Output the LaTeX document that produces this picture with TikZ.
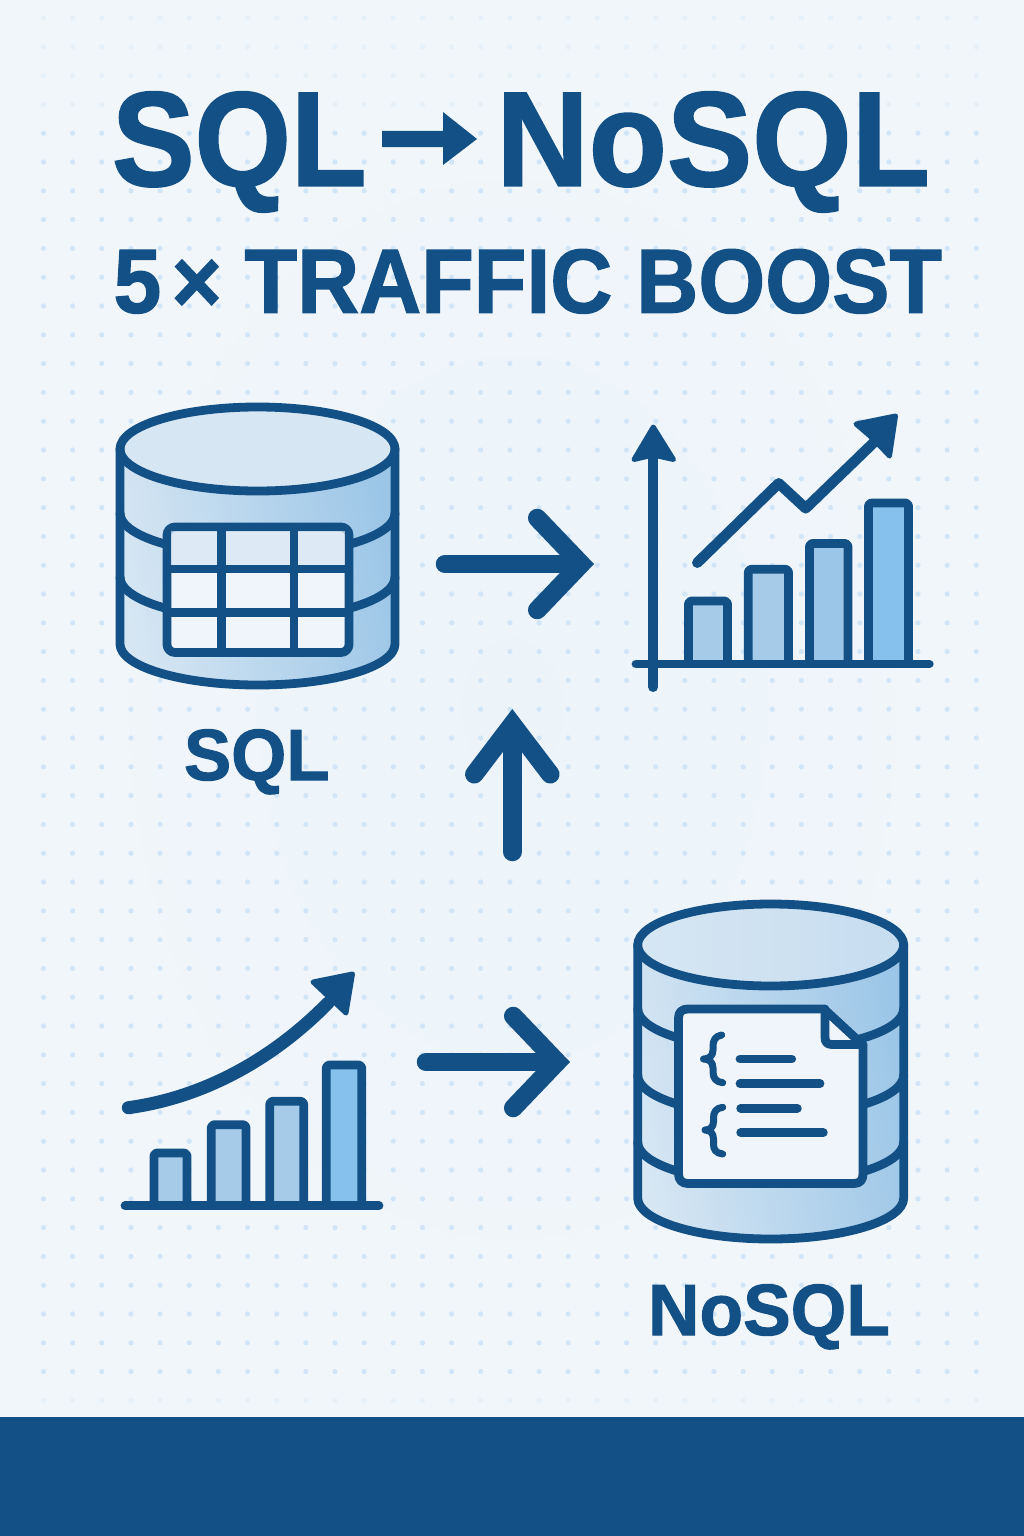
\documentclass[tikz,border=0pt]{standalone}
\usepackage{fontspec}
\usetikzlibrary{arrows.meta,calc}
\newfontface\hfb[FakeBold=1.4]{Liberation Sans Bold}
\definecolor{ink}{HTML}{125086}
\definecolor{bgmid}{HTML}{ECF4FA}
\definecolor{bgedge}{HTML}{F1F6FA}
\definecolor{dotc}{HTML}{CDE4F8}
\definecolor{lite}{HTML}{D6E6F3}
\definecolor{topr}{HTML}{C6DDF0}
\definecolor{deep}{HTML}{9CC6E7}
\definecolor{paper}{HTML}{EFF5FA}
\definecolor{barA}{HTML}{A5CBE9}
\definecolor{barB}{HTML}{85C1EC}
\tikzset{
  inkline/.style={draw=ink,line width=8.8pt,line join=round,line cap=round},
  thin ink/.style={draw=ink,line width=7pt,line join=round,line cap=round},
  solidhead/.style={fill=ink,draw=ink,line width=5pt,line join=round},
  barbox/.style={draw=ink,line width=8.8pt,line join=round,rounded corners=3pt},
  flow/.style={draw=ink,line width=18.5pt,line cap=round,
    -{Straight Barb[length=44pt,width=92pt,line width=18.5pt,line cap=round,line join=miter]}},
  port/.style={inner sep=0pt,minimum size=0pt,outer sep=0pt},
  headline/.style={inner sep=0pt,outer sep=0pt,anchor=base west,text=ink},
}
\newcommand{\cyl}[5]{% cx rx topcy ry botcy
  \path[left color=lite,right color=deep,shading angle=100] (#1-#2,#3) -- (#1-#2,#5) arc[start angle=180,end angle=0,x radius=#2,y radius=#4] -- (#1+#2,#3) -- cycle;
}
\begin{document}
\begin{tikzpicture}[x=1pt,y=-1pt]
\useasboundingbox (0,0) rectangle (1024,1536);
% background
\shade[inner color=bgmid,outer color=bgedge] (0,0) rectangle (1024,1417);
\foreach \r in {0,...,48}{
  \pgfmathsetmacro{\yy}{18+28.8*\r}
  \pgfmathsetmacro{\op}{\yy<125?0.3:(\yy>1385?0.25:0.9)}
  \foreach \c in {0,...,32}{
    \fill[dotc,opacity=\op] ({43.5+29.15*\c},\yy) circle[radius=2.6];
  }
}
\fill[ink] (0,1417) rectangle (1024,1536);
% title
\node[headline] (titleA) at (112,185.7) {\scalebox{0.92}[1]{\fontsize{134.6}{140}\hfb SQL}};
\node[headline] (titleB) at (496.5,185.7) {\scalebox{0.95}[1]{\fontsize{134.6}{140}\hfb NoSQL}};
\fill[ink] (382,131) -- (443,131) -- (443,112) -- (477,139) -- (443,165) -- (443,147) -- (382,147) -- cycle;
\node[headline] (subtitle) at (113.5,312.7) {\scalebox{0.945}[1]{\fontsize{91}{96}\hfb 5\kern11pt ×\kern24pt TRAFFIC BOOST}};
% SQL cylinder
\cyl{257.5}{137.5}{449}{41}{644}
\filldraw[inkline,fill=lite] (257.5,449) ellipse[x radius=137.5,y radius=42];
\foreach \cy in {513,577}{
  \draw[inkline] (120,\cy) arc[start angle=180,end angle=0,x radius=137.5,y radius=42];
}
\draw[inkline] (120,449) -- (120,644) arc[start angle=180,end angle=0,x radius=137.5,y radius=41] -- (395,449);
\filldraw[inkline,fill=paper,rounded corners=8pt] (167,527) rectangle (349,652.5);
\fill[lite,opacity=.7] (171,531) rectangle (345,569);
\draw[draw=ink,line width=8.8pt] (221.7,527) -- (221.7,652.5) (294,527) -- (294,652.5) (167,569) -- (349,569) (167,612.7) -- (349,612.7);
\node[headline] (sqllabel) at (184,780) {\scalebox{0.975}[1]{\fontsize{72.6}{76}\hfb SQL}};
% growth chart top right
\foreach \xa/\xb/\yt/\col in {688.5/727.5/601/barA,748.3/788.5/569.3/barA,809.5/848/543.5/deep,868.5/908.5/503/barB}{
  \filldraw[barbox,fill=\col] (\xa,664) -- (\xa,\yt) -- (\xb,\yt) -- (\xb,664);
}
\draw[inkline] (636,664) -- (929.3,664);
\draw[draw=ink,line width=10pt,line cap=round] (653.3,687) -- (653.3,450);
\filldraw[solidhead] (653.3,427) -- (634,459.5) -- (653.3,455) -- (673.5,459.5) -- cycle;
\draw[draw=ink,line width=10.5pt,line cap=round,line join=round] (697.3,562.7) -- (778.7,483.3) -- (805.7,508.3) -- (873.3,443);
\filldraw[solidhead] (895.5,416) -- (856,424) -- (870,436) -- (880,446) -- (889.5,456) -- cycle;
% NoSQL cylinder
\cyl{770.7}{133}{945}{41}{1198}
\filldraw[inkline,left color=lite,right color=topr] (770.7,945) ellipse[x radius=133,y radius=41];
\foreach \cy in {1008.5,1075,1142}{
  \draw[inkline] (637.7,\cy) arc[start angle=180,end angle=0,x radius=133,y radius=41];
}
\draw[inkline] (637.7,945) -- (637.7,1198) arc[start angle=180,end angle=0,x radius=133,y radius=41] -- (903.7,945);
\filldraw[inkline,fill=paper] (688,1009) -- (824,1009) -- (863,1045) -- (863,1174) .. controls (863,1180) and (860,1183.5) .. (854,1183.5) -- (688,1183.5) .. controls (682,1183.5) and (678.5,1180) .. (678.5,1174) -- (678.5,1018) .. controls (678.5,1012) and (682,1009) .. (688,1009) -- cycle;
\draw[inkline] (825,1009) -- (825,1037) .. controls (825,1042) and (827,1044.5) .. (832,1044.5) -- (863,1044.5);
\draw[thin ink] (721.7,1035) .. controls (715,1036) and (713,1041) .. (713,1046) -- (713,1050) .. controls (713,1056) and (709,1059) .. (703.5,1059) .. controls (709,1059) and (713,1062) .. (713,1068) -- (713,1072) .. controls (713,1078) and (716,1082) .. (722.7,1082.7);
\draw[thin ink] (722.7,1107.3) .. controls (716,1108) and (713.5,1112) .. (713.5,1118) -- (713.5,1122) .. controls (713.5,1127) and (710,1130) .. (705,1130) .. controls (710,1130) and (713.5,1133) .. (713.5,1139) -- (713.5,1144) .. controls (713.5,1150) and (716,1153) .. (722.7,1154);
\draw[inkline] (740,1059) -- (791.7,1059) (740,1083.7) -- (820,1083.7) (740.7,1108.3) -- (797.3,1108.3) (740.7,1132.7) -- (823.3,1132.7);
\node[headline] (nosqllabel) at (648,1335) {\scalebox{0.983}[1]{\fontsize{72.6}{76}\hfb NoSQL}};
% growth chart bottom left
\foreach \xa/\xb/\yt/\col in {154/187/1153/barA,211.3/246/1124.7/barA,269.7/303.7/1101.3/barA,326.3/361.7/1065/barB}{
  \filldraw[barbox,fill=\col] (\xa,1205.7) -- (\xa,\yt) -- (\xb,\yt) -- (\xb,1205.7);
}
\draw[inkline] (125,1205.7) -- (379,1205.7);
\draw[draw=ink,line width=13pt,line cap=round] (128.3,1107.7) .. controls (200,1098) and (270,1062) .. (328,1003);
\filldraw[solidhead] (352.5,974) -- (313,982) -- (346,1013) -- cycle;
% connectors
\node[port] (sqlout) at (445,564) {};
\node[port] (chartin) at (594,564) {};
\node[port] (nosqlup) at (512.3,852) {};
\node[port] (chartup) at (512.3,709) {};
\node[port] (growthout) at (426,1062) {};
\node[port] (nosqlin) at (570,1062) {};
\draw[flow] (sqlout) -- (chartin);
\draw[flow,-{Straight Barb[length=50pt,width=76pt,line width=18.5pt,line cap=round,line join=miter]}] (nosqlup) -- (chartup);
\draw[flow] (growthout) -- (nosqlin);
\end{tikzpicture}
\end{document}
